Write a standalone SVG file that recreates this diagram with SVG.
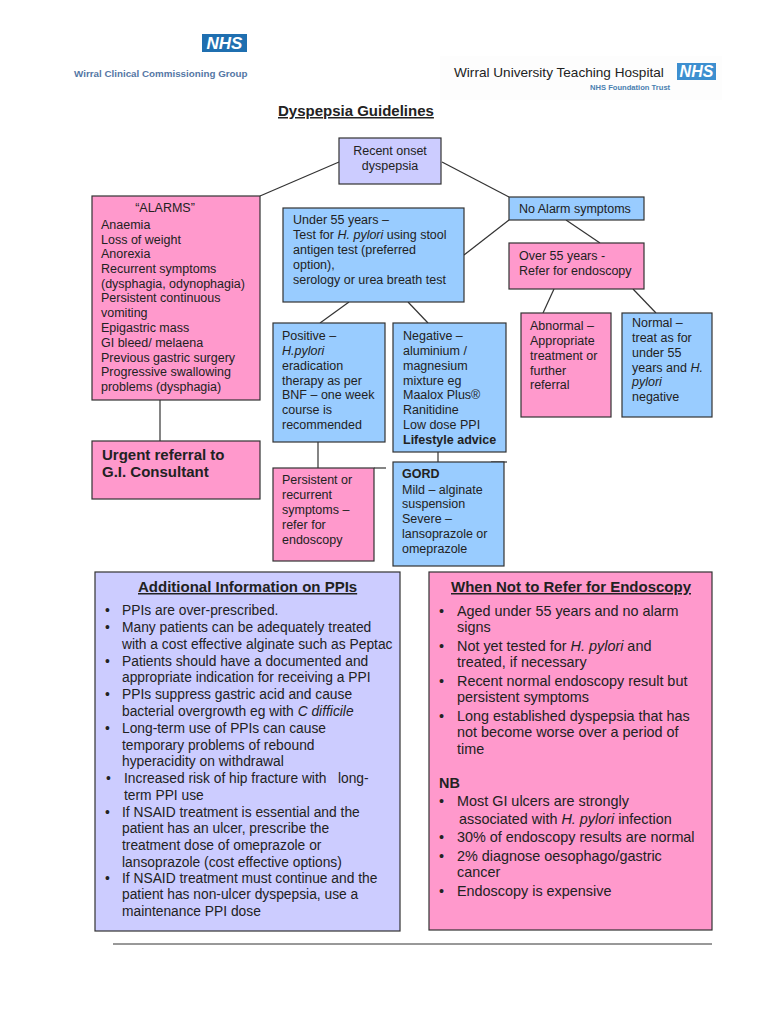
<svg xmlns="http://www.w3.org/2000/svg" width="768" height="1024" viewBox="0 0 768 1024">
<style>
text{font-family:"Liberation Sans",Arial,sans-serif;font-size:12.5px;fill:#222}
.b{fill:#99ccff;stroke:#333;stroke-width:1.2}
.p{fill:#ff99cc;stroke:#333;stroke-width:1.2}
.l{fill:#ccccff;stroke:#333;stroke-width:1.2}
.c line{stroke:#333;stroke-width:1.2}
.big{font-size:15px;font-weight:bold}
.h{font-size:15px;font-weight:bold;text-decoration:underline}
.t{font-size:13.8px}
.u{font-size:14.4px}
.logo{font-size:17px;font-weight:bold;font-style:italic;fill:#fff}
</style>
<rect width="768" height="1024" fill="#fff"/>
<g id="logo-left">
<rect x="202" y="34" width="45" height="18" fill="#1f6fb0"/>
<text class="logo" x="224.500" y="49" text-anchor="middle">NHS</text>
<text x="74" y="77" style="font-size:9.800px;font-weight:bold;fill:#5577a5">Wirral Clinical Commissioning Group</text>
</g>
<g id="logo-right">
<rect x="440" y="56" width="282" height="44" fill="#fdfdfd"/>
<rect x="677" y="63" width="39" height="17" fill="#3d8fd0"/>
<text class="logo" x="696.500" y="77" text-anchor="middle" style="font-size:16px">NHS</text>
<text x="454" y="77" style="font-size:13.600px">Wirral University Teaching Hospital</text>
<text x="590" y="90" style="font-size:7.600px;fill:#4a80b0;font-weight:bold">NHS Foundation Trust</text>
</g>
<text id="title" class="h" x="278" y="116">Dyspepsia Guidelines</text>
<g id="connectors" class="c">
<line x1="339" y1="162" x2="260" y2="196"/>
<line x1="442" y1="162" x2="509" y2="197"/>
<line x1="509" y1="220" x2="464" y2="255"/>
<line x1="566" y1="220" x2="600" y2="243"/>
<line x1="349" y1="302" x2="320" y2="323"/>
<line x1="408" y1="302" x2="428" y2="323"/>
<line x1="554" y1="289" x2="543" y2="313"/>
<line x1="633" y1="289" x2="656" y2="313"/>
<line x1="160" y1="400" x2="160" y2="441"/>
<line x1="318" y1="442" x2="318" y2="468"/>
<line x1="374" y1="468" x2="386" y2="468"/>
<line x1="438" y1="452" x2="438" y2="462"/>
<line x1="491" y1="462" x2="507" y2="462"/>
</g>
<g id="recent"><rect class="l" x="339" y="138" width="102" height="46"/>
<text x="390" y="155" text-anchor="middle">Recent onset</text><text x="390" y="170" text-anchor="middle">dyspepsia</text></g>
<g id="alarms"><rect class="p" x="92" y="196" width="168" height="204"/>
<text x="165" y="212" text-anchor="middle">“ALARMS”</text>
<text x="101" y="229">Anaemia</text><text x="101" y="243.500">Loss of weight</text><text x="101" y="258">Anorexia</text><text x="101" y="273">Recurrent symptoms</text><text x="101" y="287.500">(dysphagia, odynophagia)</text><text x="101" y="302">Persistent continuous</text><text x="101" y="317">vomiting</text><text x="101" y="332">Epigastric mass</text><text x="101" y="346.500">GI bleed/ melaena</text><text x="101" y="361.500">Previous gastric surgery</text><text x="101" y="376">Progressive swallowing</text><text x="101" y="391">problems (dysphagia)</text></g>
<g id="urgent"><rect class="p" x="92" y="441" width="168" height="58"/>
<text class="big" x="102" y="460">Urgent referral to</text><text class="big" x="102" y="477">G.I. Consultant</text></g>
<g id="under55"><rect class="b" x="283" y="208" width="181" height="94"/>
<text x="293" y="224">Under 55 years –</text>
<text x="293" y="239">Test for <tspan font-style="italic">H. pylori</tspan> using stool</text>
<text x="293" y="254">antigen test (preferred</text><text x="293" y="269">option),</text><text x="293" y="284">serology or urea breath test</text></g>
<g id="noalarm"><rect class="b" x="509" y="197" width="135" height="23"/><text x="519" y="213">No Alarm symptoms</text></g>
<g id="over55"><rect class="p" x="509" y="243" width="135" height="46"/>
<text x="519" y="260">Over 55 years -</text><text x="519" y="275">Refer for endoscopy</text></g>
<g id="abnormal"><rect class="p" x="521" y="313" width="90" height="104"/>
<text x="530" y="330">Abnormal –</text><text x="530" y="345">Appropriate</text><text x="530" y="359.500">treatment or</text><text x="530" y="374.500">further</text><text x="530" y="389">referral</text></g>
<g id="normal"><rect class="b" x="622" y="313" width="90" height="104"/>
<text x="632" y="327">Normal –</text><text x="632" y="342">treat as for</text><text x="632" y="357">under 55</text><text x="632" y="372">years and <tspan font-style="italic">H.</tspan></text><text x="632" y="386" font-style="italic">pylori</text><text x="632" y="401">negative</text></g>
<g id="positive"><rect class="b" x="273" y="323" width="112" height="119"/>
<text x="282" y="340">Positive –</text><text x="282" y="355" font-style="italic">H.pylori</text><text x="282" y="369.500">eradication</text><text x="282" y="384.500">therapy as per</text><text x="282" y="399">BNF – one week</text><text x="282" y="414">course is</text><text x="282" y="429">recommended</text></g>
<g id="negative"><rect class="b" x="393" y="323" width="113" height="129"/>
<text x="403" y="340">Negative –</text><text x="403" y="355">aluminium /</text><text x="403" y="369.500">magnesium</text><text x="403" y="384.500">mixture eg</text><text x="403" y="399">Maalox Plus®</text><text x="403" y="414">Ranitidine</text><text x="403" y="429">Low dose PPI</text><text x="403" y="444" font-weight="bold">Lifestyle advice</text></g>
<g id="persistent"><rect class="p" x="273" y="468" width="101" height="93"/>
<text x="282" y="484">Persistent or</text><text x="282" y="499">recurrent</text><text x="282" y="514">symptoms –</text><text x="282" y="529">refer for</text><text x="282" y="544">endoscopy</text></g>
<g id="gord"><rect class="b" x="393" y="462" width="111" height="104"/>
<text x="402" y="478" font-weight="bold">GORD</text><text x="402" y="494">Mild – alginate</text><text x="402" y="508">suspension</text><text x="402" y="523">Severe –</text><text x="402" y="538">lansoprazole or</text><text x="402" y="553">omeprazole</text></g>
<g id="ppi"><rect class="l" x="95" y="572" width="305" height="359"/>
<text class="h" x="138" y="592">Additional Information on PPIs</text>
<text class="t" x="105" y="615">•</text><text class="t" x="122" y="615">PPIs are over-prescribed.</text>
<text class="t" x="105" y="632">•</text><text class="t" x="122" y="632">Many patients can be adequately treated</text>
<text class="t" x="122" y="649">with a cost effective alginate such as Peptac</text>
<text class="t" x="105" y="666">•</text><text class="t" x="122" y="666">Patients should have a documented and</text>
<text class="t" x="122" y="682">appropriate indication for receiving a PPI</text>
<text class="t" x="105" y="699">•</text><text class="t" x="122" y="699">PPIs suppress gastric acid and cause</text>
<text class="t" x="122" y="716">bacterial overgrowth eg with <tspan font-style="italic">C difficile</tspan></text>
<text class="t" x="105" y="733">•</text><text class="t" x="122" y="733">Long-term use of PPIs can cause</text>
<text class="t" x="122" y="750">temporary problems of rebound</text>
<text class="t" x="122" y="766">hyperacidity on withdrawal</text>
<text class="t" x="106" y="783">•</text><text class="t" x="124" y="783" xml:space="preserve">Increased risk of hip fracture with   long-</text>
<text class="t" x="124" y="800">term PPI use</text>
<text class="t" x="105" y="817">•</text><text class="t" x="122" y="817">If NSAID treatment is essential and the</text>
<text class="t" x="122" y="833">patient has an ulcer, prescribe the</text>
<text class="t" x="122" y="850">treatment dose of omeprazole or</text>
<text class="t" x="122" y="867">lansoprazole (cost effective options)</text>
<text class="t" x="105" y="883">•</text><text class="t" x="122" y="883">If NSAID treatment must continue and the</text>
<text class="t" x="122" y="899">patient has non-ulcer dyspepsia, use a</text>
<text class="t" x="122" y="916">maintenance PPI dose</text>
</g>
<g id="noendo"><rect class="p" x="429" y="572" width="283" height="358"/>
<text class="h" x="451" y="592">When Not to Refer for Endoscopy</text>
<text class="u" x="439" y="616">•</text><text class="u" x="457" y="616">Aged under 55 years and no alarm</text>
<text class="u" x="457" y="632">signs</text>
<text class="u" x="439" y="651">•</text><text class="u" x="457" y="651">Not yet tested for <tspan font-style="italic">H. pylori</tspan> and</text>
<text class="u" x="457" y="667">treated, if necessary</text>
<text class="u" x="439" y="686">•</text><text class="u" x="457" y="686">Recent normal endoscopy result but</text>
<text class="u" x="457" y="702">persistent symptoms</text>
<text class="u" x="439" y="721">•</text><text class="u" x="457" y="721">Long established dyspepsia that has</text>
<text class="u" x="457" y="737">not become worse over a period of</text>
<text class="u" x="457" y="754">time</text>
<text class="u" x="439" y="788" font-weight="bold">NB</text>
<text class="u" x="439" y="806">•</text><text class="u" x="457" y="806">Most GI ulcers are strongly</text>
<text class="u" x="459" y="824">associated with <tspan font-style="italic">H. pylori</tspan> infection</text>
<text class="u" x="439" y="842">•</text><text class="u" x="457" y="842">30% of endoscopy results are normal</text>
<text class="u" x="439" y="861">•</text><text class="u" x="457" y="861">2% diagnose oesophago/gastric</text>
<text class="u" x="457" y="877">cancer</text>
<text class="u" x="439" y="896">•</text><text class="u" x="457" y="896">Endoscopy is expensive</text>
</g>
<line id="rule" x1="113" y1="944" x2="712" y2="944" stroke="#333" stroke-width="1"/>
</svg>
